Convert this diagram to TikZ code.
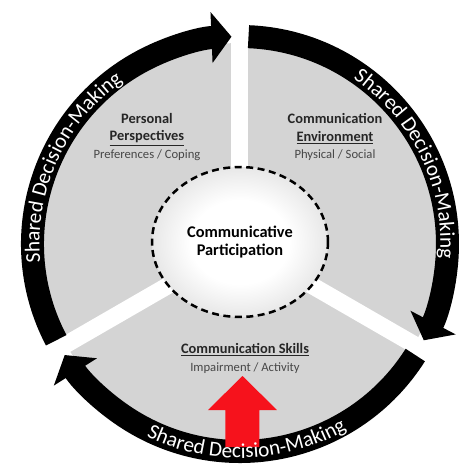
\documentclass[tikz,border=0pt]{standalone}
\usepackage{fontspec}
\setmainfont{Carlito}
\usetikzlibrary{arrows.meta,decorations.text,shapes.geometric}
\definecolor{sector}{gray}{0.83}
\definecolor{headtext}{gray}{0.15}
\definecolor{subtext}{gray}{0.28}
\definecolor{bigred}{RGB}{246,18,28}
\pgfdeclareradialshading{sphere}{\pgfpoint{0bp}{0bp}}{color(0bp)=(white); color(14bp)=(white); color(50bp)=(gray!60); color(100bp)=(gray!60)}
\newcommand{\blockhead}{\fontsize{8.2}{10.2}\selectfont\bfseries\color{headtext}}
\newcommand{\blocksub}{\fontsize{7.2}{10.2}\selectfont\color{subtext}}
\tikzstyle{ring}=[line width=0.46cm,-{Triangle[width=1cm,length=0.4cm]}]
\tikzstyle{gap}=[white,line width=0.34cm]
\tikzstyle{block}=[align=center,inner sep=0pt,font=\fontsize{8.2}{10.2}\selectfont]
\tikzstyle{ringtext}=[decorate,decoration={text along path,text align=center,text color=white,
  text={|\fontsize{12.1}{14}\selectfont|Shared Decision-Making}}]

\begin{document}
\begin{tikzpicture}[x=0.02cm,y=0.02cm]
\fill[white] (-240,-224) rectangle (234,244);
\useasboundingbox (-240,-224) rectangle (234,244);
% grey sectors, cut by three white gaps
\coordinate (o) at (0,0);
\fill[sector] (o) circle[radius=201];
\foreach \a in {90,210,330}
  \draw[gap] (o) -- (\a:235);
% the ring of three arrows
\draw[ring] (207.65:207.5) arc[start angle=207.65,end angle=92.35,radius=207.5];
\draw[ring] (87.65:207.5) arc[start angle=87.65,end angle=-27.65,radius=207.5];
\draw[ring] (-32.35:207.5) arc[start angle=-32.35,end angle=-147.65,radius=207.5];
% red arrow
\fill[bigred] (2.5,-132) -- (37,-166) -- (19.5,-166) -- (19.5,-203)
  -- (-14.5,-203) -- (-14.5,-166) -- (-32,-166) -- cycle;
% texts on the ring
\path[ringtext] (195.5:200.5) arc[start angle=195.5,end angle=115.5,radius=200.5];
\path[ringtext] (65.8:200.5) arc[start angle=65.8,end angle=-14.2,radius=200.5];
\path[ringtext] (-128:214) arc[start angle=-128,end angle=-48,radius=214];
% centre
\node[ellipse,draw,shading=sphere,line width=0.05cm,dash pattern=on 0.14cm off 0.09cm,
  minimum width=3.52cm,minimum height=3cm,align=center,
  font=\fontsize{9.3}{10.5}\selectfont\bfseries] (cp) at (0,2) {Communicative\\Participation};
\node[block] (pp) at (-93,107) {{\blockhead Personal}\\{\blockhead\underline{Perspectives}}\\{\blocksub Preferences / Coping}};
\node[block] (ce) at (95,107) {{\blockhead Communication}\\{\blockhead\underline{Environment}}\\{\blocksub Physical / Social}};
\node[block] (cs) at (5,-114) {{\blockhead\underline{Communication Skills}}\\{\blocksub Impairment / Activity}};
\end{tikzpicture}
\end{document}
